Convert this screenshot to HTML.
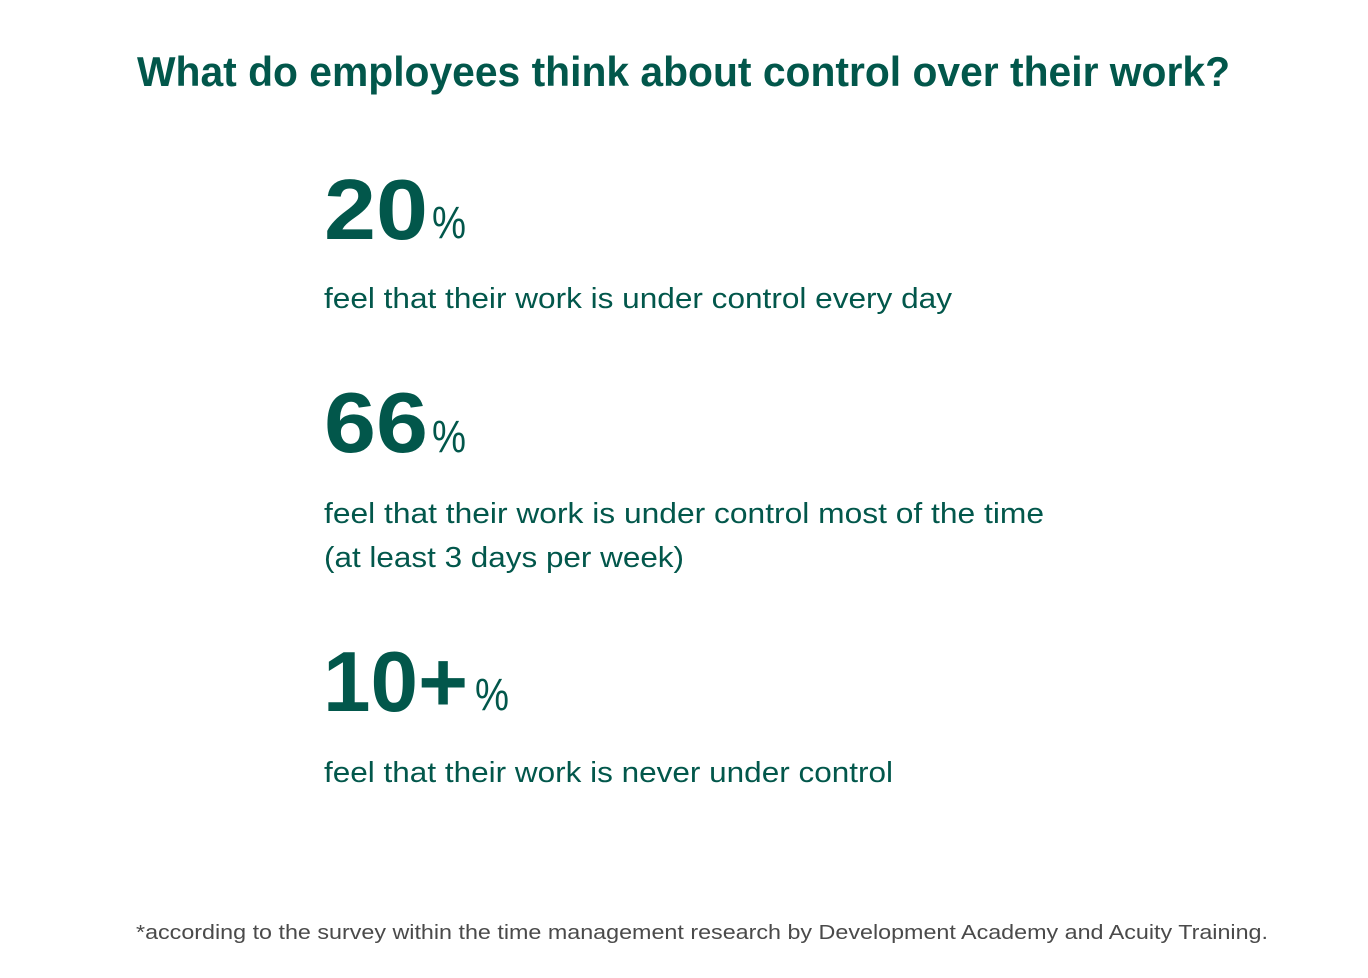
<!DOCTYPE html>
<html>
<head>
<meta charset="utf-8">
<style>
  html,body{margin:0;padding:0;background:#ffffff;}
  body{width:1368px;height:978px;overflow:hidden;}
  svg{display:block;}
  .g{fill:#02574b;font-family:"Liberation Sans",sans-serif;}
  .t{font-weight:bold;font-size:42px;}
  .big{font-weight:bold;font-size:85px;}
  .pct{font-weight:normal;font-size:45px;}
  .d{font-weight:normal;font-size:29px;}
  .f{fill:#4a4a4a;font-family:"Liberation Sans",sans-serif;font-size:20.5px;}
</style>
</head>
<body>
<svg width="1368" height="978" viewBox="0 0 1368 978" xmlns="http://www.w3.org/2000/svg">
  <text class="g t" x="137" y="86" textLength="1093" lengthAdjust="spacingAndGlyphs">What do employees think about control over their work?</text>

  <text class="g big" x="324" y="239" textLength="104" lengthAdjust="spacingAndGlyphs">20</text>
  <text class="g pct" x="432" y="238" textLength="34" lengthAdjust="spacingAndGlyphs">%</text>
  <text class="g d" x="324" y="308" textLength="628" lengthAdjust="spacingAndGlyphs">feel that their work is under control every day</text>

  <text class="g big" x="324" y="452" textLength="104" lengthAdjust="spacingAndGlyphs">66</text>
  <text class="g pct" x="432" y="452" textLength="34" lengthAdjust="spacingAndGlyphs">%</text>
  <text class="g d" x="324" y="523" textLength="720" lengthAdjust="spacingAndGlyphs">feel that their work is under control most of the time</text>
  <text class="g d" x="324" y="567" textLength="360" lengthAdjust="spacingAndGlyphs">(at least 3 days per week)</text>

  <text class="g big" x="323" y="711" textLength="145" lengthAdjust="spacingAndGlyphs">10+</text>
  <text class="g pct" x="475" y="710" textLength="34" lengthAdjust="spacingAndGlyphs">%</text>
  <text class="g d" x="324" y="782" textLength="569" lengthAdjust="spacingAndGlyphs">feel that their work is never under control</text>

  <text class="f" x="136" y="939" textLength="1132" lengthAdjust="spacingAndGlyphs">*according to the survey within the time management research by Development Academy and Acuity Training.</text>
</svg>
</body>
</html>
